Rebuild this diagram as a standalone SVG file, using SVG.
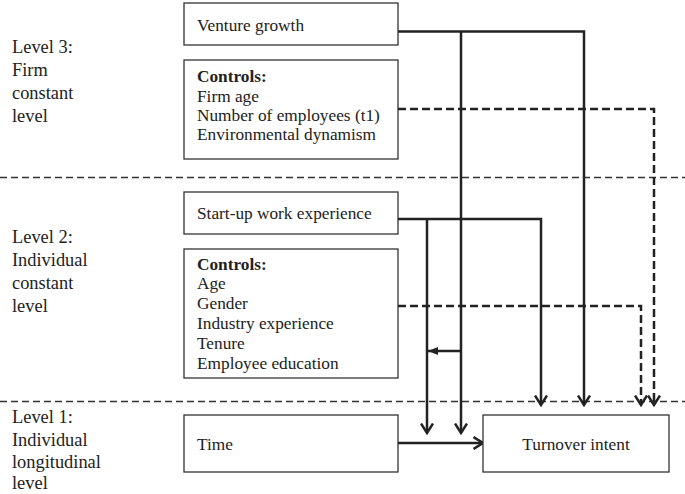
<svg xmlns="http://www.w3.org/2000/svg" width="685" height="494" viewBox="0 0 685 494">
<style>
text{font-family:"Liberation Serif","Times New Roman",serif;font-size:17.3px;fill:#222}
.lv{font-size:18.4px}
.b{font-weight:bold}
.box{fill:#fff;stroke:#333;stroke-width:1.3}
.sep{stroke:#333;stroke-width:1.5;stroke-dasharray:7 4;fill:none}
.c{fill:none;stroke:#222;stroke-width:2.5}
.d{fill:none;stroke:#222;stroke-width:2.5;stroke-dasharray:8 4}
</style>
<defs>
<marker id="v" markerUnits="userSpaceOnUse" viewBox="0 0 12 14" refX="10.5" refY="7" markerWidth="12" markerHeight="14" orient="auto">
<path d="M1,1 L10.5,7 L1,13" fill="none" stroke="#222" stroke-width="2.5"/>
</marker>
<marker id="t" markerUnits="userSpaceOnUse" viewBox="0 0 10 10" refX="10" refY="5" markerWidth="10" markerHeight="10" orient="auto">
<path d="M0,1 L10,5 L0,9 Z" fill="#222"/>
</marker>
</defs>
<g id="separators">
<line class="sep" x1="0" y1="177.5" x2="685" y2="177.5"/>
<line class="sep" x1="0" y1="401.5" x2="685" y2="401.5"/>
</g>
<g id="level-labels" class="lv">
<text class="lv" x="12" y="53">Level 3:</text>
<text class="lv" x="12" y="76">Firm</text>
<text class="lv" x="12" y="99">constant</text>
<text class="lv" x="12" y="122">level</text>
<text class="lv" x="12" y="243">Level 2:</text>
<text class="lv" x="12" y="266">Individual</text>
<text class="lv" x="12" y="289">constant</text>
<text class="lv" x="12" y="312">level</text>
<text class="lv" x="12" y="423">Level 1:</text>
<text class="lv" x="12" y="446">Individual</text>
<text class="lv" x="12" y="468">longitudinal</text>
<text class="lv" x="12" y="489">level</text>
</g>
<g id="connectors">
<path class="d" d="M398,109 H654 V405" marker-end="url(#v)"/>
<path class="d" d="M398,306 H641 V405" marker-end="url(#v)"/>
<path class="c" d="M398,31.5 H584 V405" marker-end="url(#v)"/>
<path class="c" d="M461,31.5 V433" marker-end="url(#v)"/>
<path class="c" d="M398,219 H541 V405" marker-end="url(#v)"/>
<path class="c" d="M427,219 V433" marker-end="url(#v)"/>
<path class="c" d="M461,351 H428" stroke-width="2" marker-end="url(#t)"/>
<path class="c" d="M398,443 H483" marker-end="url(#v)"/>
</g>
<g id="venture-growth">
<rect class="box" x="184" y="3" width="214" height="42"/>
<text x="197" y="31">Venture growth</text>
</g>
<g id="firm-controls">
<rect class="box" x="184" y="60" width="214" height="99"/>
<text x="197" y="82" class="b">Controls:</text>
<text x="197" y="102">Firm age</text>
<text x="197" y="121">Number of employees (t1)</text>
<text x="197" y="140">Environmental dynamism</text>
</g>
<g id="startup-work-experience">
<rect class="box" x="184" y="192" width="214" height="42"/>
<text x="197" y="219">Start-up work experience</text>
</g>
<g id="individual-controls">
<rect class="box" x="184" y="249" width="214" height="129"/>
<text x="197" y="270" class="b">Controls:</text>
<text x="197" y="289">Age</text>
<text x="197" y="309">Gender</text>
<text x="197" y="329">Industry experience</text>
<text x="197" y="349">Tenure</text>
<text x="197" y="369">Employee education</text>
</g>
<g id="time">
<rect class="box" x="184" y="415" width="214" height="57"/>
<text x="197" y="450">Time</text>
</g>
<g id="turnover-intent">
<rect class="box" x="483" y="415" width="186" height="57"/>
<text x="576" y="450" text-anchor="middle">Turnover intent</text>
</g>
</svg>
